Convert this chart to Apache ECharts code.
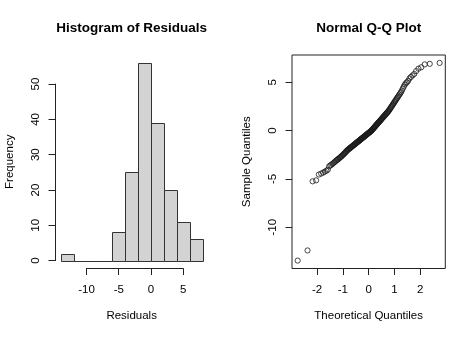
<!DOCTYPE html>
<html>
<head>
<meta charset="utf-8">
<script src="https://cdn.jsdelivr.net/npm/echarts/dist/echarts.min.js"></script>
<style>
  html, body { margin: 0; padding: 0; background: #ffffff; }
  #chart { width: 474px; height: 338px; }
</style>
</head>
<body>
<div id="chart"></div>
<script>
// ---- Histogram of residuals: break points and bin counts ----
const histBreaks = [-14, -12, -10, -8, -6, -4, -2, 0, 2, 4, 6, 8];
const histCounts = [2, 0, 0, 0, 8, 25, 56, 39, 20, 11, 6];
const histXTicks = [-10, -5, 0, 5];
const histYTicks = [0, 10, 20, 30, 40, 50];

// ---- Normal Q-Q plot: sorted residuals (sample quantiles) ----
const residuals = [
  -13.45, -12.40,
  -5.25, -5.15, -4.55, -4.45, -4.35, -4.25, -4.15, -4.05,
  -3.70, -3.61, -3.53, -3.44, -3.36, -3.27, -3.18, -3.10, -3.04, -2.97,
  -2.91, -2.84, -2.78, -2.72, -2.65, -2.59, -2.52, -2.46, -2.40, -2.33,
  -2.27, -2.20, -2.14, -2.08, -2.01,
  -1.97, -1.93, -1.89, -1.84, -1.80, -1.76, -1.72, -1.68, -1.64, -1.60,
  -1.56, -1.52, -1.48, -1.44, -1.41, -1.37, -1.33, -1.30, -1.26, -1.22,
  -1.19, -1.15, -1.12, -1.08, -1.05, -1.01, -0.98, -0.94, -0.91, -0.87,
  -0.84, -0.81, -0.77, -0.74, -0.71, -0.67, -0.64, -0.61, -0.57, -0.54,
  -0.51, -0.48, -0.44, -0.41, -0.38, -0.34, -0.31, -0.28, -0.25, -0.21,
  -0.18, -0.15, -0.12, -0.08, -0.05, -0.02,
  0.03, 0.08, 0.12, 0.17, 0.22, 0.26, 0.31, 0.36, 0.41, 0.45,
  0.50, 0.55, 0.60, 0.65, 0.69, 0.74, 0.79, 0.84, 0.89, 0.94,
  0.99, 1.04, 1.09, 1.14, 1.20, 1.25, 1.30, 1.36, 1.41, 1.46,
  1.52, 1.57, 1.63, 1.69, 1.75, 1.80, 1.86, 1.92, 1.98,
  2.05, 2.13, 2.22, 2.30, 2.39, 2.47, 2.57, 2.66, 2.75, 2.85,
  2.95, 3.05, 3.16, 3.26, 3.38, 3.49, 3.60, 3.72, 3.85, 3.98,
  4.15, 4.35, 4.55, 4.75, 4.90, 5.00, 5.15, 5.40, 5.55, 5.70, 5.85,
  6.15, 6.40, 6.55, 6.85, 6.90, 7.00
];
const qqXTicks = [-2, -1, 0, 1, 2];
const qqYTicks = [-10, -5, 0, 5];

// Inverse standard normal CDF (Acklam's rational approximation)
function qnorm(p) {
  const a = [-3.969683028665376e+01, 2.209460984245205e+02, -2.759285104469687e+02,
             1.383577518672690e+02, -3.066479806614716e+01, 2.506628277459239e+00];
  const b = [-5.447609879822406e+01, 1.615858368580409e+02, -1.556989798598866e+02,
             6.680131188771972e+01, -1.328068155288572e+01];
  const c = [-7.784894002430293e-03, -3.223964580411365e-01, -2.400758277161838e+00,
             -2.549732539343734e+00, 4.374664141464968e+00, 2.938163982698783e+00];
  const d = [7.784695709041462e-03, 3.224671290700398e-01, 2.445134137142996e+00,
             3.754408661907416e+00];
  const pl = 0.02425;
  let q, r;
  if (p < pl) {
    q = Math.sqrt(-2 * Math.log(p));
    return (((((c[0]*q+c[1])*q+c[2])*q+c[3])*q+c[4])*q+c[5]) /
           ((((d[0]*q+d[1])*q+d[2])*q+d[3])*q+1);
  } else if (p <= 1 - pl) {
    q = p - 0.5; r = q * q;
    return (((((a[0]*r+a[1])*r+a[2])*r+a[3])*r+a[4])*r+a[5])*q /
           (((((b[0]*r+b[1])*r+b[2])*r+b[3])*r+b[4])*r+1);
  }
  q = Math.sqrt(-2 * Math.log(1 - p));
  return -(((((c[0]*q+c[1])*q+c[2])*q+c[3])*q+c[4])*q+c[5]) /
          ((((d[0]*q+d[1])*q+d[2])*q+d[3])*q+1);
}

// Plotting positions (i - 0.5) / n, as used for n > 10
const n = residuals.length;
const theoretical = residuals.map((_, i) => qnorm((i + 0.5) / n));

// Data range padded by 4% on each side
function padRange(lo, hi) {
  const d = (hi - lo) * 0.04;
  return [lo - d, hi + d];
}

// Plot region inside each 237px panel
const PANEL_W = 237;
const PLOT = { left: 55, right: 208.3, top: 55, bottom: 268.5 };
const plotW = PLOT.right - PLOT.left;
const plotH = PLOT.bottom - PLOT.top;

const histX = padRange(histBreaks[0], histBreaks[histBreaks.length - 1]);
const histY = padRange(0, Math.max(...histCounts));
const qqX = padRange(Math.min(...theoretical), Math.max(...theoretical));
const qqY = padRange(Math.min(...residuals), Math.max(...residuals));

function xPix(v, range, offset) {
  return offset + PLOT.left + (v - range[0]) / (range[1] - range[0]) * plotW;
}
function yPix(v, range) {
  return PLOT.bottom - (v - range[0]) / (range[1] - range[0]) * plotH;
}

// Grids that carry only a tick axis spanning first..last tick
function xTickGrid(ticks, range, offset) {
  const l = xPix(ticks[0], range, offset);
  const r = xPix(ticks[ticks.length - 1], range, offset);
  return { left: l, width: r - l, top: PLOT.top, height: plotH };
}
function yTickGrid(ticks, range, offset) {
  const t = yPix(ticks[ticks.length - 1], range);
  const b = yPix(ticks[0], range);
  return { left: offset + PLOT.left, width: plotW, top: t, height: b - t };
}

const FONT = "'Liberation Sans', Arial, sans-serif";
const INK = '#000000';

const gridBase = { containLabel: false, outerBoundsMode: 'none', show: false };
const grids = [
  Object.assign({}, gridBase, { left: PLOT.left, top: PLOT.top, width: plotW, height: plotH }),
  Object.assign({}, gridBase, xTickGrid(histXTicks, histX, 0)),
  Object.assign({}, gridBase, yTickGrid(histYTicks, histY, 0)),
  Object.assign({}, gridBase, {
    left: PANEL_W + PLOT.left, top: PLOT.top, width: plotW, height: plotH,
    show: true, borderColor: '#222222', borderWidth: 1, backgroundColor: 'transparent'
  }),
  Object.assign({}, gridBase, xTickGrid(qqXTicks, qqX, PANEL_W)),
  Object.assign({}, gridBase, yTickGrid(qqYTicks, qqY, PANEL_W))
];

function hiddenAxis(gridIndex, range) {
  return { type: 'value', gridIndex, min: range[0], max: range[1], show: false };
}
function tickAxis(gridIndex, ticks, isY, showLine) {
  return {
    type: 'value', gridIndex,
    min: ticks[0], max: ticks[ticks.length - 1], interval: ticks[1] - ticks[0],
    position: isY ? 'left' : 'bottom',
    axisLine: { show: showLine, lineStyle: { color: '#222222', width: 1 } },
    axisTick: { show: true, inside: false, length: 6.5, lineStyle: { color: '#222222', width: 1 } },
    axisLabel: {
      show: true, color: INK, fontFamily: FONT, fontSize: 11.5,
      margin: isY ? 13.5 : 15, rotate: isY ? 90 : 0,
      showMinLabel: true, showMaxLabel: true, hideOverlap: false
    },
    splitLine: { show: false }
  };
}

const xAxes = [
  hiddenAxis(0, histX),
  tickAxis(1, histXTicks, false, true),
  hiddenAxis(2, [0, 1]),
  hiddenAxis(3, qqX),
  tickAxis(4, qqXTicks, false, false),
  hiddenAxis(5, [0, 1])
];
const yAxes = [
  hiddenAxis(0, histY),
  hiddenAxis(1, [0, 1]),
  tickAxis(2, histYTicks, true, true),
  hiddenAxis(3, qqY),
  hiddenAxis(4, [0, 1]),
  tickAxis(5, qqYTicks, true, false)
];

const histData = histCounts.map((c, i) => [histBreaks[i], histBreaks[i + 1], c]);
const qqData = residuals.map((v, i) => [theoretical[i], v]);

function label(text, x, y, opts) {
  return Object.assign({
    type: 'text', x, y,
    style: {
      text, fill: INK, font: (opts && opts.font) || ('11.5px ' + FONT),
      textAlign: 'center', textVerticalAlign: 'middle'
    }
  }, opts && opts.rotation !== undefined ? { rotation: opts.rotation } : {});
}

const titleFont = 'bold 13.5px ' + FONT;
const histCx = PLOT.left + plotW / 2;
const qqCx = PANEL_W + histCx;
const midY = PLOT.top + plotH / 2;

const option = {
  animation: false,
  backgroundColor: '#ffffff',
  grid: grids,
  xAxis: xAxes,
  yAxis: yAxes,
  series: [
    {
      type: 'custom',
      xAxisIndex: 0, yAxisIndex: 0,
      data: histData,
      encode: { x: [0, 1], y: 2 },
      renderItem: function (params, api) {
        const p0 = api.coord([api.value(0), 0]);
        const p1 = api.coord([api.value(1), api.value(2)]);
        const x0 = Math.round(p0[0]) + 0.5, x1 = Math.round(p1[0]) + 0.5;
        const yb = Math.round(p0[1]) + 0.5, yt = Math.round(p1[1]) + 0.5;
        return {
          type: 'rect',
          shape: { x: x0, y: yt, width: x1 - x0, height: yb - yt },
          style: { fill: '#D3D3D3', stroke: '#333333', lineWidth: 1 }
        };
      }
    },
    {
      type: 'scatter',
      xAxisIndex: 3, yAxisIndex: 3,
      data: qqData,
      symbol: 'circle',
      symbolSize: 5.2,
      itemStyle: { color: 'rgba(0,0,0,0)', borderColor: '#1a1a1a', borderWidth: 1 }
    }
  ],
  graphic: [
    label('Histogram of Residuals', histCx, 28.5, { font: titleFont }),
    label('Normal Q-Q Plot', qqCx, 28.5, { font: titleFont }),
    label('Residuals', histCx, 316),
    label('Theoretical Quantiles', qqCx, 316),
    label('Frequency', 9.5, midY, { rotation: Math.PI / 2 }),
    label('Sample Quantiles', PANEL_W + 9.5, midY, { rotation: Math.PI / 2 })
  ]
};

const chart = echarts.init(document.getElementById('chart'), null, { renderer: 'canvas' });
chart.setOption(option);
</script>
</body>
</html>
